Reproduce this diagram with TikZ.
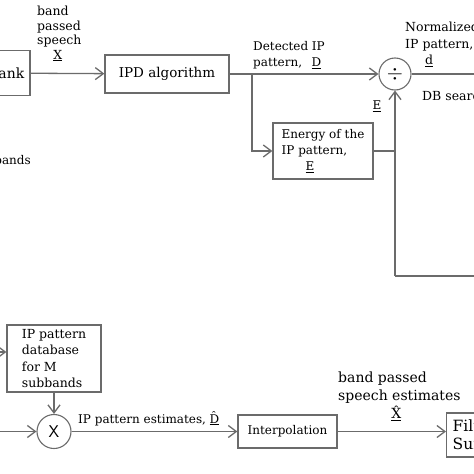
\documentclass[tikz,border=0pt]{standalone}
\usepackage{fontspec}
\setmainfont{DejaVu Serif}
\usetikzlibrary{arrows.meta}
\definecolor{linec}{gray}{0.42}
\tikzset{
  blk/.style={draw=linec,line width=1.3pt,rectangle,inner sep=0pt,font=\fontsize{13.5}{16}\selectfont},
  op/.style={draw=linec,line width=1.1pt,circle,minimum size=32pt,inner sep=0pt},
  wire/.style={draw=linec,line width=1.3pt},
  arr/.style={wire,-{Straight Barb[length=8pt,width=12pt]}},
  lbl/.style={font=\fontsize{12}{16}\selectfont,align=left,inner sep=0pt}
}

\begin{document}
\begin{tikzpicture}[x=1pt,y=-1pt]
  \useasboundingbox (0,0) rectangle (474,474);
  \clip (0,0) rectangle (474,474);

  \node (bank) at (-15,73) [blk,minimum width=90,minimum height=45,font=\fontsize{14}{16}\selectfont]{Filter bank};
  \node (ipd) at (167,74) [blk,minimum width=124,minimum height=38]{IPD algorithm};
  \node (div) at (395,74) [op]{\fontsize{20}{20}\selectfont$\div$};
  \node (energy) at (323,151) [blk,lbl,draw,minimum width=100,minimum height=56]{Energy of the\\IP pattern,\\\hspace{2em}\underline{E}};

  \coordinate (br) at (252,74);
  \coordinate (join) at (395,151);
  \coordinate (corner) at (395,276);
  \coordinate (feed) at (480,276);
  \coordinate (out) at (480,74);

  \draw[arr] (bank) -- (ipd);
  \draw[wire] (ipd.east) -- (br);
  \draw[arr] (br) -- (div.west);
  \draw[arr] (br) |- (energy.west);
  \draw[wire] (energy.east) -- (join);
  \draw[wire] (feed) -- (corner);
  \draw[arr] (corner) -- (div.south);
  \draw[wire] (div.east) -- (out);

  \node (xlbl) at (37,6) [lbl,anchor=north west,font=\fontsize{12.5}{14.5}\selectfont]{band\\passed\\speech\\\hspace{1.3em}\underline{X}};
  \node (dlbl) at (253,69) [lbl,anchor=south west]{Detected IP\\pattern,\hspace{0.8em}\underline{D}};
  \node (nlbl) at (405,22) [lbl,anchor=north west,font=\fontsize{12.5}{16.5}\selectfont]{Normalized\\IP pattern,\\\hspace{1.6em}\underline{d}};
  \node (dblbl) at (422,91) [lbl,anchor=north west,font=\fontsize{12.5}{16}\selectfont]{DB search};
  \node (elbl) at (377,106) [lbl]{\underline{E}};
  \node (sblbl) at (31,160) [lbl,anchor=east]{subbands};

  \node (db) at (54,358.5) [blk,minimum width=94,minimum height=67,align=left,font=\fontsize{12.5}{16.5}\selectfont]{IP pattern\\database\\for M\\subbands};
  \node (mul) at (54,431.5) [op,minimum size=34pt]{\sffamily\fontsize{17}{17}\selectfont X};
  \node (interp) at (287.5,431.5) [blk,minimum width=99,minimum height=33,font=\fontsize{12}{14}\selectfont]{Interpolation};
  \node (final) at (446,435) [blk,anchor=west,inner xsep=6pt,minimum height=44,align=left,font=\fontsize{15.5}{18}\selectfont]{Filter bank\\Summation};

  \coordinate (dbin) at (-5,352);
  \coordinate (mulin) at (-5,431.5);

  \draw[arr] (dbin) -- (dbin -| db.west);
  \draw[arr] (db.south) -- (mul.north);
  \draw[arr] (mulin) -- (mul.west);
  \draw[arr] (mul.east) -- (interp.west);
  \draw[arr] (interp.east) -- (interp.east -| final.west);

  \node (plbl) at (78,423) [lbl,anchor=base west]{IP pattern estimates,\hspace{0.3em}\underline{\^{D}}};
  \node (xhlbl) at (338,372) [lbl,anchor=north west,font=\fontsize{14}{18}\selectfont]{band passed\\speech estimates\\\hspace{3.8em}\underline{\^{X}}};

\end{tikzpicture}
\end{document}
